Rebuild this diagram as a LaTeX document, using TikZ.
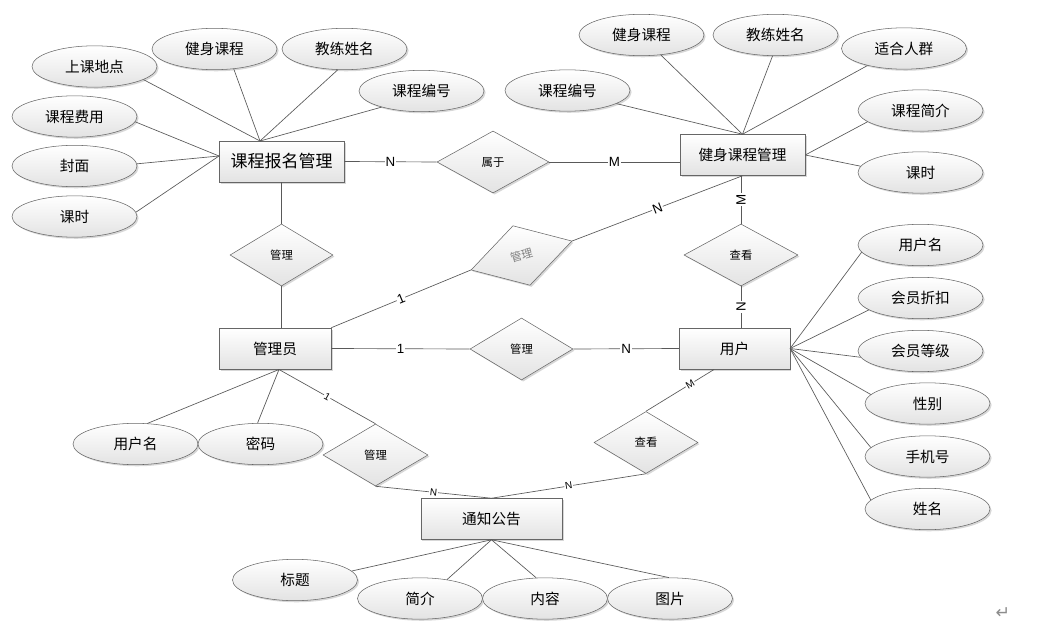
\documentclass[tikz,border=0pt]{standalone}
\usepackage{fontspec}
\setmainfont{Liberation Sans}
\newfontfamily\cjk{Noto Sans CJK SC}
\newfontfamily\sym{DejaVu Sans}
\usetikzlibrary{shapes.geometric,shadows}

\tikzset{
	box/.style={draw=black!60, top color=white, bottom color=black!11, drop shadow={shadow xshift=1.2pt, shadow yshift=-1.2pt, fill=black!35, opacity=0.45}, inner sep=0pt},
	attr/.style={box, ellipse, minimum width=93.75pt, minimum height=31pt, font=\cjk\fontsize{11}{13}\selectfont},
	entity/.style={box, rectangle, minimum height=30.75pt, font=\cjk\fontsize{11}{13}\selectfont},
	rel/.style={box, diamond, minimum height=46.5pt, font=\cjk\fontsize{8.5}{10}\selectfont},
	card/.style={fill=white, inner sep=0.6pt, font=\fontsize{10}{11}\selectfont},
	smallcard/.style={card, font=\fontsize{7.5}{8}\selectfont},
	conn/.style={draw=black!65, line width=0.5pt}
}

\begin{document}
\begin{tikzpicture}[x=0.75pt, y=-0.75pt]
			\useasboundingbox (0,0) rectangle (1054,635);
			\node[entity, minimum width=93.75pt, font=\cjk\fontsize{12.75}{14}\selectfont] (KB) at (281.5,161.5) {课程报名管理};
			\node[entity, minimum width=93.75pt] (JK) at (742.5,155) {健身课程管理};
			\node[entity, minimum width=84pt] (GL) at (275,348.5) {管理员};
			\node[entity, minimum width=83pt] (YH) at (734.5,348.5) {用户};
			\node[entity, minimum width=106pt] (TZ) at (491.5,519) {通知公告};
			\node[rel, minimum width=84pt] (SY) at (493,162) {属于};
			\node[rel, minimum width=77.25pt] (R1) at (281.5,255) {管理};
			\node[rel, minimum width=78.75pt, rotate=16, text=black!50] (R2) at (521.5,255.5) {管理};
			\node[rel, minimum width=85.5pt] (CK1) at (741,255) {查看};
			\node[rel, minimum width=77.25pt] (R3) at (521.5,349) {管理};
			\node[rel, minimum width=78.75pt] (R4) at (375.5,455) {管理};
			\node[rel, minimum width=78pt] (CK2) at (646,442.5) {查看};
			\node[attr] (K1) at (94.5,66.5) {上课地点};
			\node[attr] (K2) at (214.5,49) {健身课程};
			\node[attr] (K3) at (344.5,49) {教练姓名};
			\node[attr] (K4) at (421.5,91) {课程编号};
			\node[attr] (K5) at (74.5,116.5) {课程费用};
			\node[attr] (K6) at (74.5,166) {封面};
			\node[attr] (K7) at (74.5,216.5) {课时};
			\node[attr] (J1) at (641.5,35) {健身课程};
			\node[attr] (J2) at (775.5,35) {教练姓名};
			\node[attr] (J3) at (904,48.5) {适合人群};
			\node[attr] (J4) at (567.5,90.5) {课程编号};
			\node[attr] (J5) at (920.5,110.5) {课程简介};
			\node[attr] (J6) at (920.5,172.5) {课时};
			\node[attr] (Y1) at (920.5,245) {用户名};
			\node[attr] (Y2) at (920.5,298) {会员折扣};
			\node[attr] (Y3) at (920.5,351) {会员等级};
			\node[attr] (Y4) at (927.5,403.5) {性别};
			\node[attr] (Y5) at (927.5,456.5) {手机号};
			\node[attr] (Y6) at (927.5,509) {姓名};
			\node[attr] (G1) at (135.5,444) {用户名};
			\node[attr] (G2) at (260.5,444) {密码};
			\node[attr] (T1) at (295,580) {标题};
			\node[attr] (T2) at (420,598.5) {简介};
			\node[attr] (T3) at (545,598.5) {内容};
			\node[attr] (T4) at (670,598.5) {图片};
			\node[text=black!45, font=\sym\fontsize{13}{14}\selectfont] (RET) at (1003,613) {↵};
			\coordinate (KBt) at (260,141);
			\coordinate (KBl) at (219,156);
			\coordinate (GLb) at (279,369.5);
			\coordinate (YHb) at (714,369.5);
			\foreach \a/\b in {K1/345,K2/314,K3/252,K4/202} \draw[conn] (\a.\b) -- (KBt);
			\foreach \a/\b in {K5/355,K6/2,K7/4} \draw[conn] (\a.\b) -- (KBl);
			\foreach \a/\b in {J1/314,J2/262,J3/205,J4/345} \draw[conn] (\a.\b) -- (JK.north);
			\foreach \a/\b in {J5/192,J6/174} \draw[conn] (\a.\b) -- (JK.east);
			\foreach \a/\b in {Y1/187,Y2/193,Y3/186,Y4/171,Y5/171,Y6/171} \draw[conn] (\a.\b) -- (YH.east);
			\foreach \a/\b in {G1/60,G2/98} \draw[conn] (\a.\b) -- (GLb);
			\foreach \a/\b in {T1/9,T2/35,T3/113,T4/93} \draw[conn] (\a.\b) -- (TZ.south);
			\draw[conn] (KB.east) -- node[card]{N} (SY.west);
			\draw[conn] (SY.east) -- node[card]{M} (SY.east -| JK.west);
			\draw[conn] (KB) -- (R1);
			\draw[conn] (R1.south) -- (R1.south |- GL.north);
			\draw[conn] (GL.north east) -- node[card, sloped]{1} (R2.west);
			\draw[conn] (R2.east) -- node[card, sloped]{N} (JK.south);
			\draw[conn] (CK1.north |- JK.south) -- node[card, rotate=90]{M} (CK1.north);
			\draw[conn] (CK1.south) -- node[card, rotate=90]{N} (CK1.south |- YH.north);
			\draw[conn] (GL.east) -- node[card]{1} (R3.west);
			\draw[conn] (R3.east) -- node[card]{N} (YH.west);
			\draw[conn] (GLb) -- node[smallcard, sloped]{1} (R4.north);
			\draw[conn] (R4.south) -- node[smallcard, sloped]{N} (TZ.north);
			\draw[conn] (YHb) -- node[smallcard, sloped, pos=0.35]{M} (CK2.north);
			\draw[conn] (CK2.south) -- node[smallcard, sloped]{N} (TZ.north);
\end{tikzpicture}
\end{document}
